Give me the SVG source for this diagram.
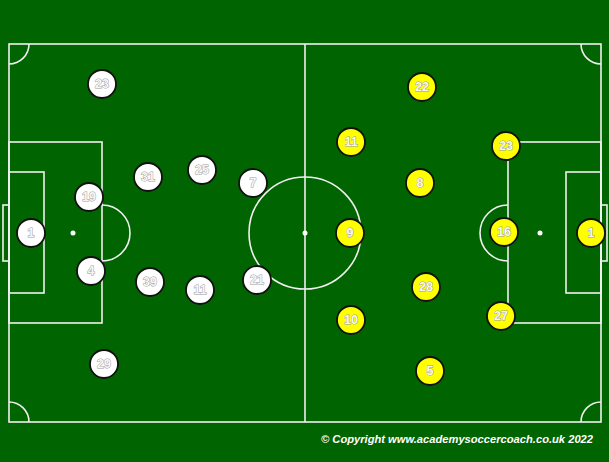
<svg xmlns="http://www.w3.org/2000/svg" width="609" height="462" viewBox="0 0 609 462">
<style>
.ln{fill:none;stroke:#f0f0f0;stroke-width:1.6}
.spot{fill:#ffffff}
.pw circle{fill:#ffffff;stroke:#111;stroke-width:1.8}
.py circle{fill:#ffff00;stroke:#111;stroke-width:1.8}
.num{font-family:"Liberation Sans",Arial,sans-serif;font-weight:bold;font-size:12.5px;text-anchor:middle;dominant-baseline:central;fill:#f6f6f6;stroke:#9a9a9a;stroke-width:0.9;paint-order:stroke fill}
.copy{font-family:"Liberation Sans",Arial,sans-serif;font-weight:bold;font-style:italic;font-size:11px;fill:#ffffff}
</style>
<rect x="0" y="0" width="609" height="462" fill="#006400"/>
<g id="pitch">
<rect class="ln" x="9" y="44" width="592" height="378"/>
<line class="ln" x1="305" y1="44" x2="305" y2="422"/>
<circle class="ln" cx="305" cy="233" r="56"/>
<circle class="spot" cx="305" cy="233" r="2.5"/>
<rect class="ln" x="9" y="142" width="93" height="181"/>
<rect class="ln" x="9" y="172" width="35" height="121"/>
<rect class="ln" x="3" y="205" width="6" height="56"/>
<circle class="spot" cx="73" cy="233" r="2.5"/>
<path class="ln" d="M102,205 A28,28 0 0 1 102,261"/>
<rect class="ln" x="508" y="142" width="93" height="181"/>
<rect class="ln" x="566" y="172" width="35" height="121"/>
<rect class="ln" x="601" y="205" width="6" height="56"/>
<circle class="spot" cx="540" cy="233" r="2.5"/>
<path class="ln" d="M508,205 A28,28 0 0 0 508,261"/>
<path class="ln" d="M29,44 A20,20 0 0 1 9,64"/>
<path class="ln" d="M581,44 A20,20 0 0 0 601,64"/>
<path class="ln" d="M9,402 A20,20 0 0 1 29,422"/>
<path class="ln" d="M601,402 A20,20 0 0 0 581,422"/>
</g>
<g id="connectors"/>
<g class="pw">
<g id="w23"><circle cx="102" cy="84" r="14"/><text class="num" x="102" y="84">23</text></g>
<g id="w1"><circle cx="31" cy="233" r="14"/><text class="num" x="31" y="233">1</text></g>
<g id="w19"><circle cx="89" cy="197" r="14"/><text class="num" x="89" y="197">19</text></g>
<g id="w4"><circle cx="91" cy="271" r="14"/><text class="num" x="91" y="271">4</text></g>
<g id="w31"><circle cx="148" cy="177" r="14"/><text class="num" x="148" y="177">31</text></g>
<g id="w25"><circle cx="202" cy="170" r="14"/><text class="num" x="202" y="170">25</text></g>
<g id="w7"><circle cx="253" cy="183" r="14"/><text class="num" x="253" y="183">7</text></g>
<g id="w39"><circle cx="150" cy="282" r="14"/><text class="num" x="150" y="282">39</text></g>
<g id="w11"><circle cx="200" cy="290" r="14"/><text class="num" x="200" y="290">11</text></g>
<g id="w21"><circle cx="257" cy="280" r="14"/><text class="num" x="257" y="280">21</text></g>
<g id="w29"><circle cx="104" cy="364" r="14"/><text class="num" x="104" y="364">29</text></g>
</g>
<g class="py">
<g id="y22"><circle cx="422" cy="87" r="14"/><text class="num" x="422" y="87">22</text></g>
<g id="y11"><circle cx="351" cy="142" r="14"/><text class="num" x="351" y="142">11</text></g>
<g id="y8"><circle cx="420" cy="183" r="14"/><text class="num" x="420" y="183">8</text></g>
<g id="y23"><circle cx="506" cy="146" r="14"/><text class="num" x="506" y="146">23</text></g>
<g id="y9"><circle cx="350" cy="233" r="14"/><text class="num" x="350" y="233">9</text></g>
<g id="y16"><circle cx="504" cy="232" r="14"/><text class="num" x="504" y="232">16</text></g>
<g id="y1"><circle cx="591" cy="233" r="14"/><text class="num" x="591" y="233">1</text></g>
<g id="y28"><circle cx="426" cy="287" r="14"/><text class="num" x="426" y="287">28</text></g>
<g id="y10"><circle cx="351" cy="320" r="14"/><text class="num" x="351" y="320">10</text></g>
<g id="y27"><circle cx="501" cy="316" r="14"/><text class="num" x="501" y="316">27</text></g>
<g id="y5"><circle cx="430" cy="371" r="14"/><text class="num" x="430" y="371">5</text></g>
</g>
<text class="copy" x="321" y="443" textLength="272" lengthAdjust="spacingAndGlyphs">© Copyright www.academysoccercoach.co.uk 2022</text>
</svg>
